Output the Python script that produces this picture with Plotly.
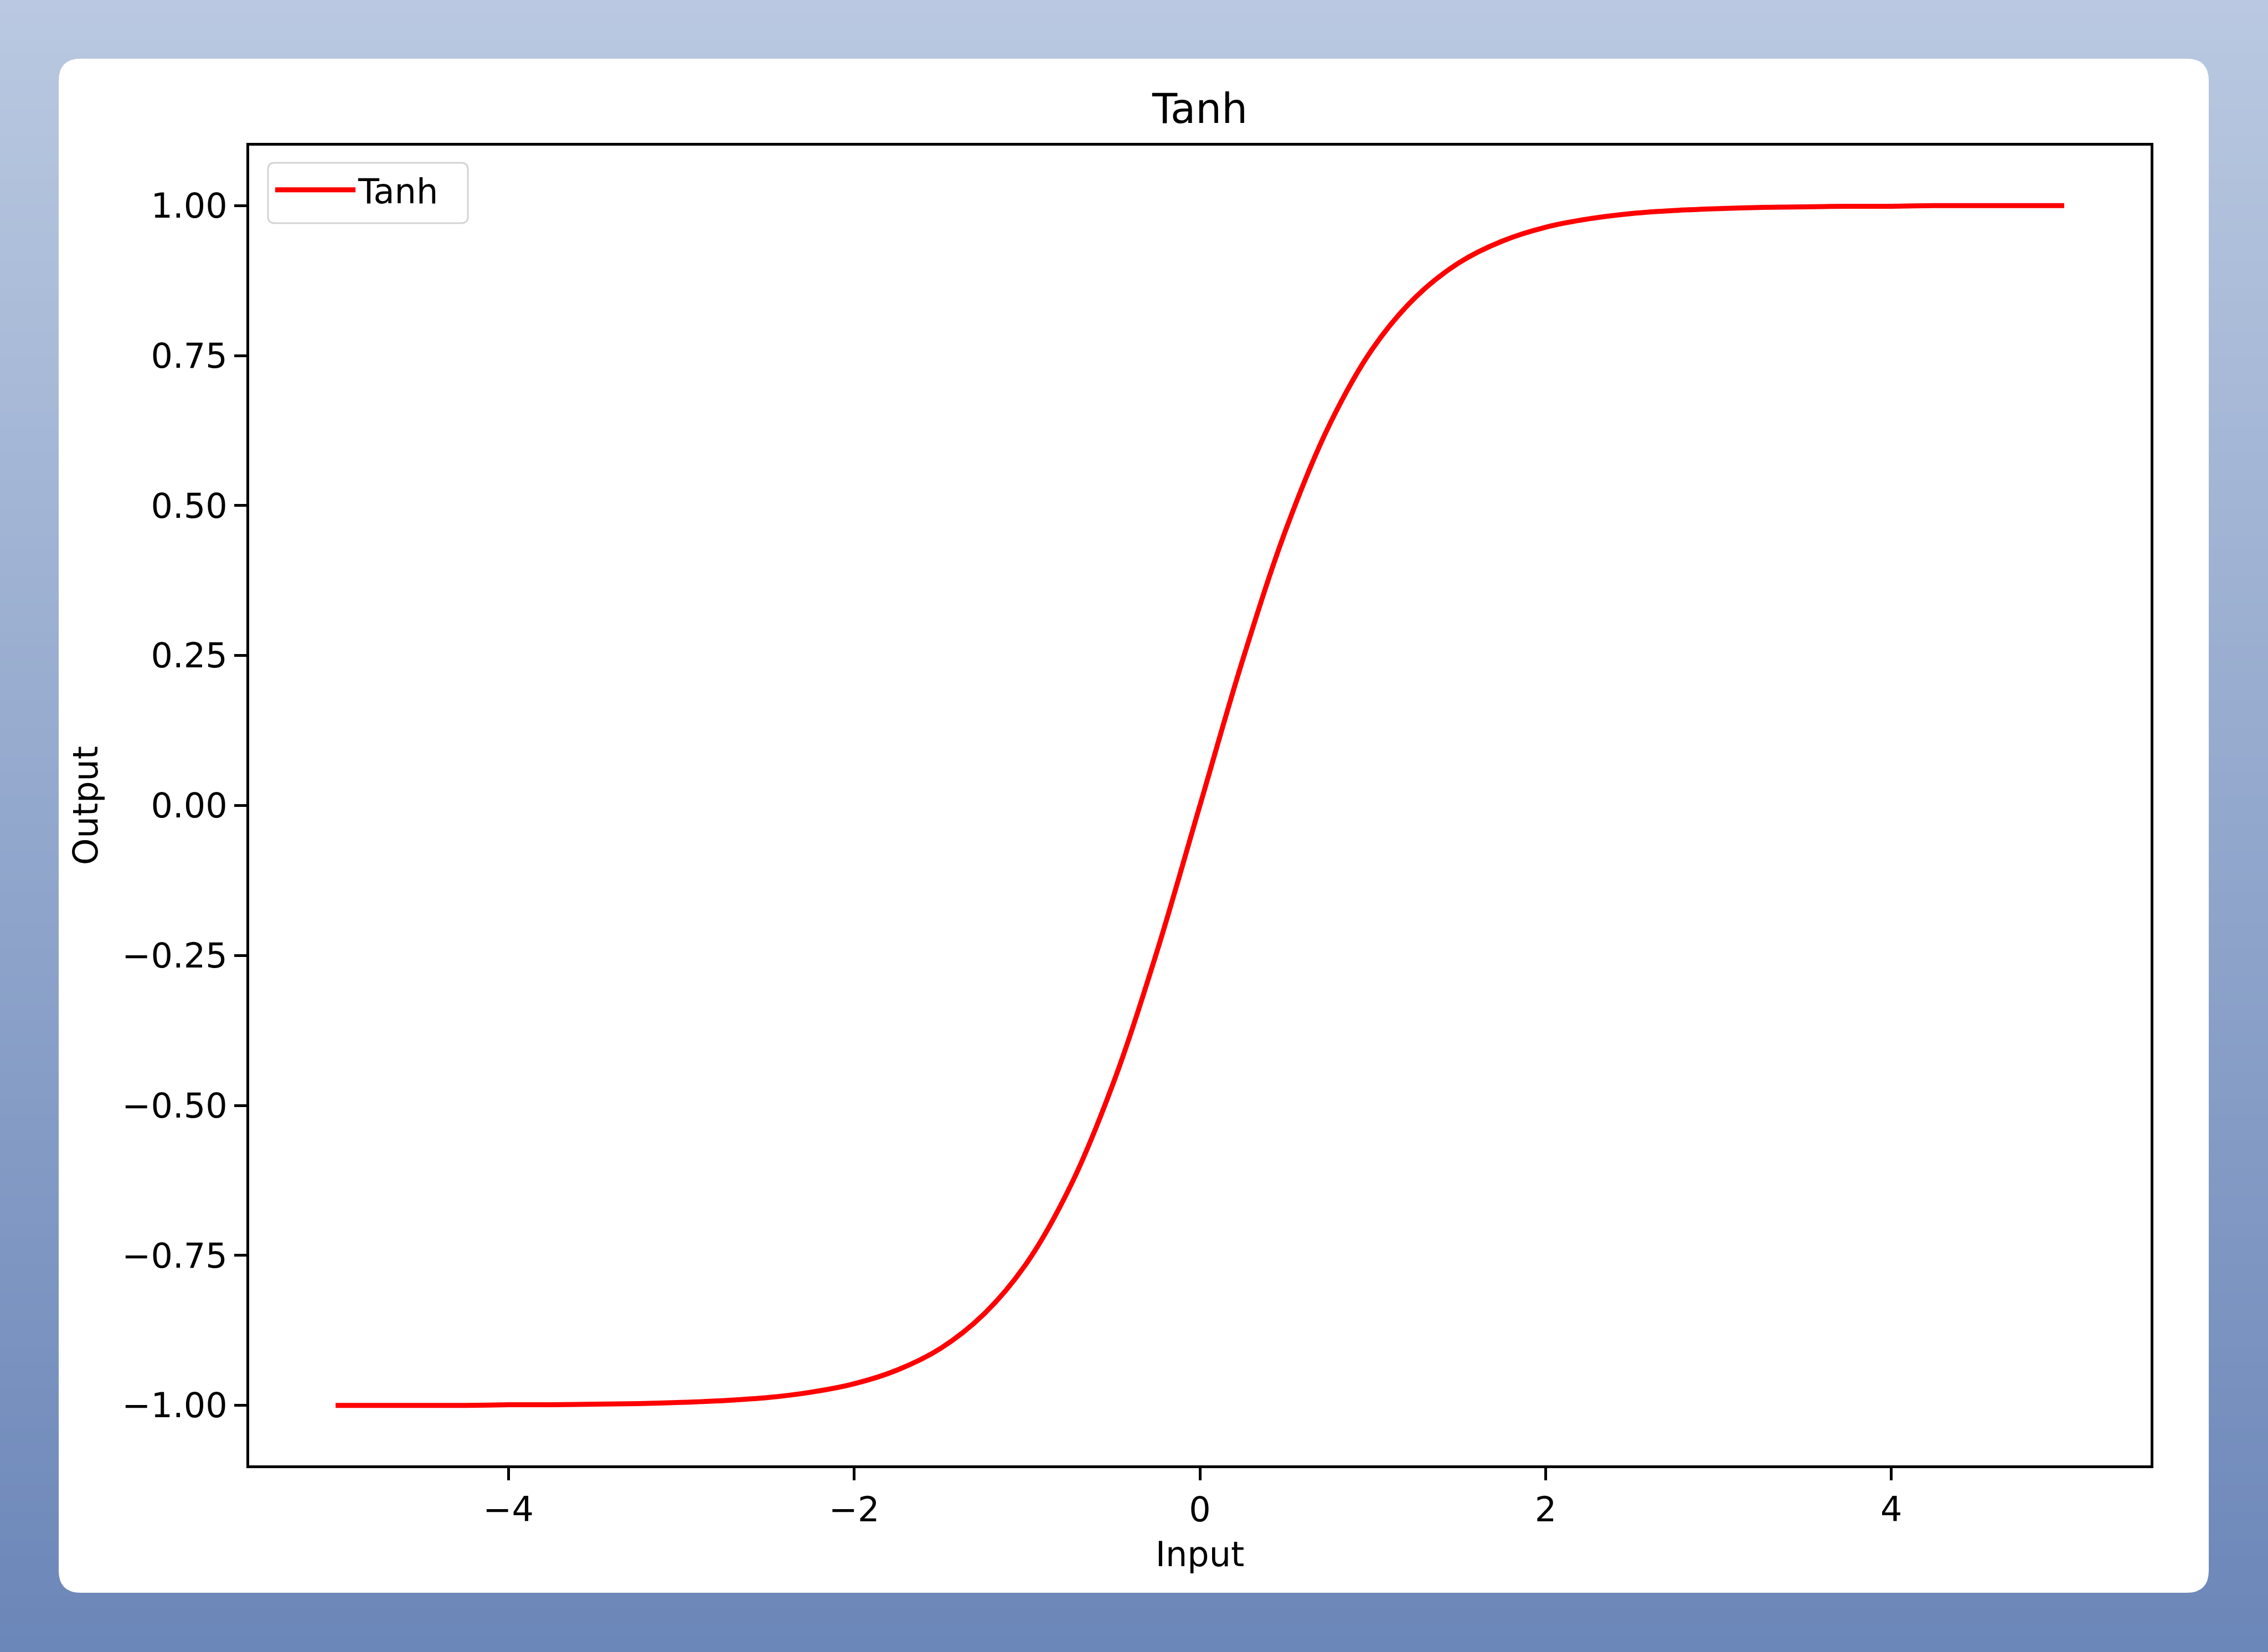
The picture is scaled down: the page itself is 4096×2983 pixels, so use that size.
import plotly.graph_objects as go

# ---------------- data ----------------
x_vals = [-5.0, -4.75, -4.5, -4.25, -4.0, -3.75, -3.5, -3.25, -3.0, -2.75,
          -2.5, -2.25, -2.0, -1.75, -1.5, -1.25, -1.0, -0.75, -0.5, -0.25,
          0.0, 0.25, 0.5, 0.75, 1.0, 1.25, 1.5, 1.75, 2.0, 2.25,
          2.5, 2.75, 3.0, 3.25, 3.5, 3.75, 4.0, 4.25, 4.5, 4.75, 5.0]
y_vals = [-1.000, -1.000, -1.000, -1.000, -0.999, -0.999, -0.998, -0.997, -0.995, -0.992,
          -0.987, -0.978, -0.964, -0.941, -0.905, -0.848, -0.762, -0.635, -0.462, -0.245,
          0.000, 0.245, 0.462, 0.635, 0.762, 0.848, 0.905, 0.941, 0.964, 0.978,
          0.987, 0.992, 0.995, 0.997, 0.998, 0.999, 0.999, 1.000, 1.000, 1.000, 1.000]
series_name = "Tanh"
x_ticks = [-4, -2, 0, 2, 4]
x_tick_text = ["\u22124", "\u22122", "0", "2", "4"]
y_ticks = [-1.0, -0.75, -0.5, -0.25, 0.0, 0.25, 0.5, 0.75, 1.0]
y_tick_text = ["\u22121.00", "\u22120.75", "\u22120.50", "\u22120.25", "0.00",
               "0.25", "0.50", "0.75", "1.00"]

# ---------------- layout geometry (pixels) ----------------
W, H = 4096, 2983
L, R, T, B = 450, 3884, 263, 2646
FONT = "DejaVu Sans"


def px(x):
    return (x - L) / (R - L)


def py(y):
    return (B - y) / (B - T)


shapes = []
# gradient background as thin strips
top_c = (186, 201, 225)
bot_c = (107, 134, 184)
N = 120
for i in range(N):
    t = (i + 0.5) / N
    c = tuple(round(top_c[k] + (bot_c[k] - top_c[k]) * t) for k in range(3))
    y0 = i * H / N - 2
    y1 = (i + 1) * H / N + 2
    shapes.append(dict(type="rect", xref="paper", yref="paper", layer="below",
                       x0=px(-20), x1=px(W + 20), y0=py(y1), y1=py(y0),
                       line=dict(width=0), fillcolor="rgb(%d,%d,%d)" % c))


def P(x, y):
    return "%.6f,%.6f" % (px(x), py(y))


def rounded(x0, y0, x1, y1, r):
    return ("M" + P(x0 + r, y0) + " L" + P(x1 - r, y0) + " Q" + P(x1, y0) + " " + P(x1, y0 + r) +
            " L" + P(x1, y1 - r) + " Q" + P(x1, y1) + " " + P(x1 - r, y1) +
            " L" + P(x0 + r, y1) + " Q" + P(x0, y1) + " " + P(x0, y1 - r) +
            " L" + P(x0, y0 + r) + " Q" + P(x0, y0) + " " + P(x0 + r, y0) + " Z")


# white rounded card
shapes.append(dict(type="path", xref="paper", yref="paper", layer="below",
                   path=rounded(106, 106, 3989, 2876, 40),
                   fillcolor="white", line=dict(width=0)))
# legend frame (rounded, like matplotlib's fancybox)
shapes.append(dict(type="path", xref="paper", yref="paper", layer="below",
                   path=rounded(484, 294, 845, 403, 12),
                   fillcolor="white", line=dict(width=3, color="#d4d4d4")))

fig = go.Figure()
fig.add_trace(go.Scatter(x=x_vals, y=y_vals, mode="lines", name=series_name,
                         line=dict(color="#ff0000", width=9, shape="spline", smoothing=1.0)))

axis_common = dict(showgrid=False, zeroline=False, showline=True, linecolor="black",
                   linewidth=5, mirror=True, ticks="outside", ticklen=22, tickwidth=5,
                   tickcolor="black", tickfont=dict(family=FONT, size=62, color="black"))

fig.update_layout(
    width=W, height=H,
    margin=dict(l=L, r=W - R, t=T, b=H - B, pad=0),
    paper_bgcolor="rgb(146,167,204)",
    plot_bgcolor="rgba(0,0,0,0)",
    shapes=shapes,
    font=dict(family=FONT, color="black"),
    title=dict(text="Tanh", x=px(2167), xref="paper", xanchor="center",
               y=1 - 196 / H, yanchor="middle", yref="container",
               font=dict(family=FONT, size=74, color="black")),
    xaxis=dict(range=[-5.5, 5.5], tickvals=x_ticks, ticktext=x_tick_text,
               title=dict(text="Input", standoff=25, font=dict(family=FONT, size=62, color="black")),
               **axis_common),
    yaxis=dict(range=[-1.1, 1.1], tickvals=y_ticks, ticktext=y_tick_text,
               title=dict(text="Output", standoff=25, font=dict(family=FONT, size=62, color="black")),
               **axis_common),
    showlegend=True,
    legend=dict(x=px(492), y=py(296), xanchor="left", yanchor="top",
                bgcolor="rgba(0,0,0,0)", borderwidth=0,
                itemwidth=145, tracegroupgap=0,
                font=dict(family=FONT, size=62, color="black")),
)

fig.write_html("out.html", config={"displayModeBar": False},
               post_script="document.body.style.margin='0px';document.body.style.overflow='hidden';")
